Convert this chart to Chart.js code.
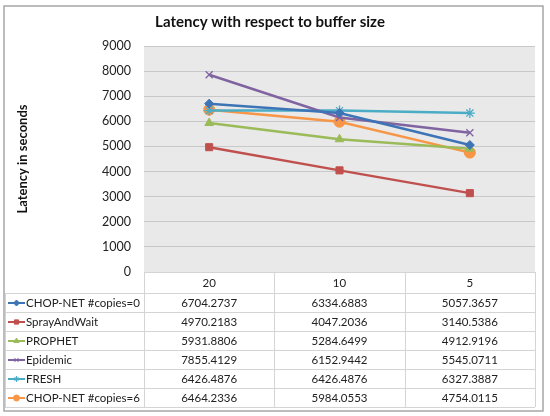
<!DOCTYPE html>
<html>
<head>
<meta charset="utf-8">
<script src="https://cdn.jsdelivr.net/npm/chart.js@4/dist/chart.umd.min.js"></script>
<style>
html,body{margin:0;padding:0;background:#fff;}
#wrap{width:550px;height:416px;}
</style>
</head>
<body>
<div id="wrap"><canvas id="c" width="550" height="416"></canvas></div>
<script>
const categories = ["20", "10", "5"];
const seriesNames = ["CHOP-NET #copies=0", "SprayAndWait", "PROPHET", "Epidemic", "FRESH", "CHOP-NET #copies=6"];
const chopNet0 = [6704.2737, 6334.6883, 5057.3657];
const sprayAndWait = [4970.2183, 4047.2036, 3140.5386];
const prophet = [5931.8806, 5284.6499, 4912.9196];
const epidemic = [7855.4129, 6152.9442, 5545.0711];
const fresh = [6426.4876, 6426.4876, 6327.3887];
const chopNet6 = [6464.2336, 5984.0553, 4754.0115];
const yTicks = [0, 1000, 2000, 3000, 4000, 5000, 6000, 7000, 8000, 9000];

const seriesValues = [chopNet0, sprayAndWait, prophet, epidemic, fresh, chopNet6];
const colors = ["#3C74B6", "#C0504D", "#9BBB59", "#8064A2", "#4BACC6", "#F79646"];
const markers = ["rectRot", "rect", "triangle", "crossRot", "star", "circle"];
const markerRadius = [4.5, 5, 5, 5, 5, 5.5];
const FONT = "Lato, 'Open Sans', sans-serif";

const datasets = seriesNames.map((n, i) => ({
  label: n,
  data: seriesValues[i],
  borderColor: colors[i],
  backgroundColor: colors[i],
  borderWidth: 2.5,
  pointStyle: markers[i],
  pointRadius: markerRadius[i],
  pointBorderWidth: (markers[i] === 'crossRot' || markers[i] === 'star') ? 1.3 : 1,
  tension: 0
}));

function drawMarker(ctx, style, x, y) {
  ctx.save();
  ctx.lineWidth = 1;
  Chart.helpers.drawPoint(ctx, {pointStyle: style, radius: 3, borderWidth: 1, rotation: 0}, x, y);
  ctx.restore();
}

const framePlugin = {
  id: 'frame',
  beforeDraw(chart) {
    const ctx = chart.ctx, a = chart.chartArea;
    ctx.save();
    ctx.fillStyle = '#ffffff';
    ctx.fillRect(0, 0, chart.width, chart.height);
    ctx.fillStyle = '#e9e9e9';
    ctx.fillRect(a.left, a.top, a.right - a.left, a.bottom - a.top);
    ctx.restore();
  },
  afterDraw(chart) {
    const ctx = chart.ctx, a = chart.chartArea, xs = chart.scales.x;
    const n = categories.length;
    const colW = (a.right - a.left) / n;
    const headerTop = a.bottom;
    const headerBottom = a.bottom + 21;
    const rowH = 19;
    const tableBottom = headerBottom + rowH * seriesNames.length;
    const leftX = 5;
    ctx.save();
    ctx.strokeStyle = '#d4d4d4';
    ctx.lineWidth = 1;
    ctx.beginPath();
    for (let i = 0; i <= n; i++) {
      const x = Math.round(a.left + colW * i) + 0.5;
      ctx.moveTo(x, headerTop);
      ctx.lineTo(x, tableBottom);
    }
    ctx.moveTo(a.left, headerTop + 0.5);
    ctx.lineTo(a.right, headerTop + 0.5);
    for (let r = 0; r <= seriesNames.length; r++) {
      const y = Math.round(headerBottom + rowH * r) + 0.5;
      ctx.moveTo(leftX, y);
      ctx.lineTo(a.right, y);
    }
    ctx.moveTo(leftX + 0.5, headerBottom);
    ctx.lineTo(leftX + 0.5, tableBottom);
    ctx.stroke();

    ctx.fillStyle = '#222';
    ctx.font = "11.5px " + FONT;
    ctx.textAlign = 'center';
    ctx.textBaseline = 'middle';
    categories.forEach((c, i) => {
      ctx.fillText(c, xs.getPixelForValue(i), (headerTop + headerBottom) / 2 + 1);
    });
    seriesNames.forEach((name, r) => {
      const yc = headerBottom + rowH * r + rowH / 2 + 0.5;
      ctx.strokeStyle = colors[r];
      ctx.fillStyle = colors[r];
      ctx.lineWidth = 2;
      ctx.beginPath();
      ctx.moveTo(8, yc);
      ctx.lineTo(25, yc);
      ctx.stroke();
      drawMarker(ctx, markers[r], 16.5, yc);
      ctx.fillStyle = '#222';
      ctx.textAlign = 'left';
      ctx.fillText(name, 26, yc);
      ctx.textAlign = 'center';
      seriesValues[r].forEach((v, i) => {
        ctx.fillText(v.toFixed(4), xs.getPixelForValue(i), yc);
      });
    });

    ctx.strokeStyle = '#a6a6a6';
    ctx.lineWidth = 1.5;
    ctx.strokeRect(4, 6, 539, 405);
    ctx.restore();
  }
};

new Chart(document.getElementById('c'), {
  type: 'line',
  data: { labels: categories, datasets: datasets },
  options: {
    responsive: false,
    animation: false,
    devicePixelRatio: 1,
    layout: { padding: { left: 5, right: 15, top: 0, bottom: 144 } },
    plugins: {
      legend: { display: false },
      tooltip: { enabled: false },
      title: {
        display: true,
        text: 'Latency with respect to buffer size',
        color: '#111',
        font: { family: FONT, size: 15, weight: 'bold' },
        padding: { top: 13, bottom: 15 }
      }
    },
    scales: {
      x: {
        type: 'category',
        display: false,
        offset: true
      },
      y: {
        min: 0,
        max: 9000,
        afterFit(scale) { scale.width = 139; },
        afterBuildTicks(scale) { scale.ticks = yTicks.map(v => ({ value: v })); },
        border: { display: false },
        grid: { color: '#c8c8c8', lineWidth: 1, drawTicks: false },
        ticks: {
          color: '#222',
          padding: 13,
          font: { family: FONT, size: 12.5 },
          callback: (v) => String(v)
        },
        title: {
          display: true,
          text: 'Latency in seconds',
          color: '#111',
          font: { family: FONT, size: 13, weight: 'bold' },
          padding: { top: 10, bottom: 0 }
        }
      }
    }
  },
  plugins: [framePlugin]
});
</script>
</body>
</html>
